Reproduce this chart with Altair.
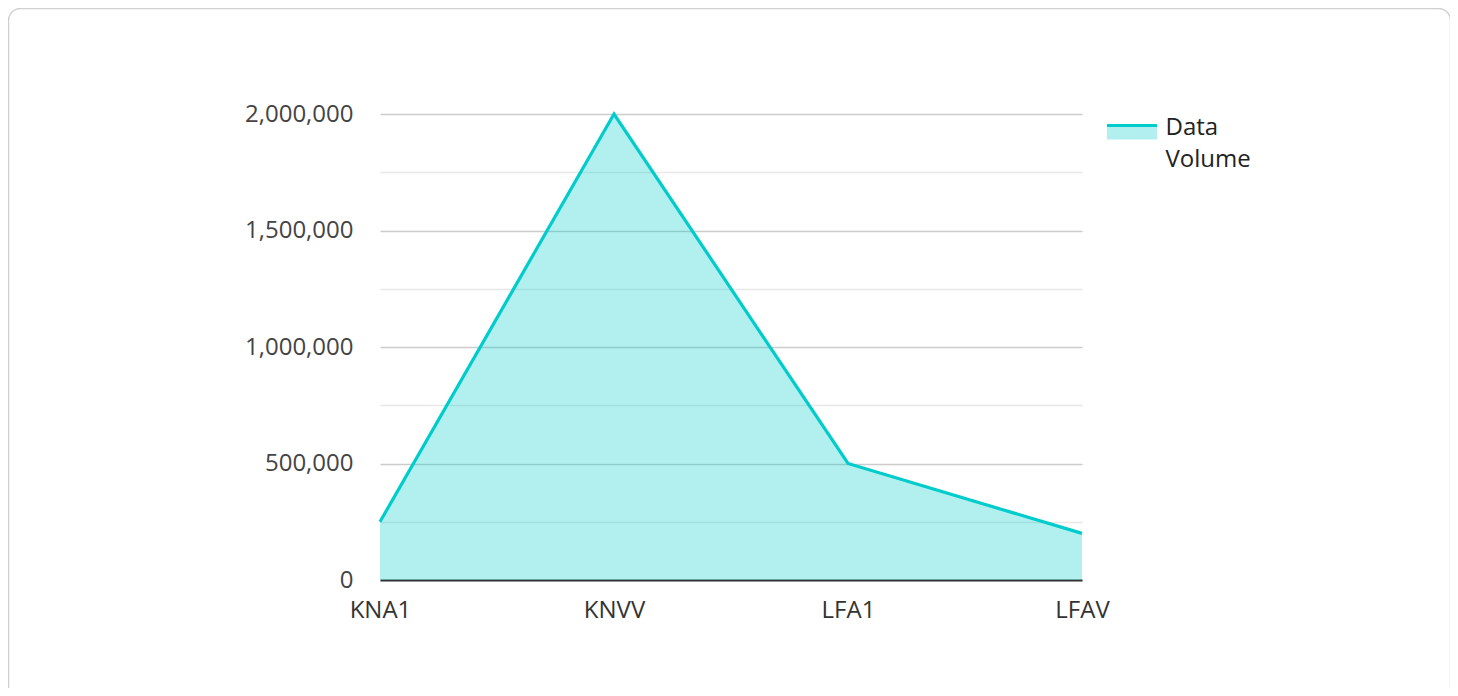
import altair as alt
import pandas as pd

tables = ["KNA1", "KNVV", "LFA1", "LFAV"]
volumes = [250000, 2000000, 500000, 200000]
series_name = "Data Volume"
legend_lines = ["Data", "Volume"]
y_ticks = [0, 250000, 500000, 750000, 1000000, 1250000, 1500000, 1750000, 2000000]

TEAL = "#00cccc"
FONT = "Open Sans"
FS = 24

df = pd.DataFrame({"table": tables, "volume": volumes, "series": [series_name] * len(tables)})

x_enc = alt.X(
    "table:N",
    sort=tables,
    scale=alt.Scale(type="point", padding=0),
    axis=alt.Axis(
        title=None, labelAngle=0, ticks=False, grid=False,
        domainColor="#333333", domainWidth=2,
        labelFont=FONT, labelFontSize=FS, labelColor="#333333", labelPadding=18,
    ),
)
y_enc = alt.Y(
    "volume:Q",
    scale=alt.Scale(domain=[0, 2000000], nice=False),
    axis=alt.Axis(
        title=None, values=y_ticks, format=",d", ticks=False, domain=False,
        labelExpr="datum.value % 500000 === 0 ? datum.label : ''",
        gridColor={"condition": {"test": "datum.value % 500000 === 0", "value": "#cccccc"}, "value": "#e8e8e8"},
        gridWidth=1.5,
        labelFont=FONT, labelFontSize=FS, labelColor="#444444", labelPadding=27,
    ),
)

area = alt.Chart(df).mark_area(opacity=0.3, color=TEAL).encode(x=x_enc, y=y_enc)

line = alt.Chart(df).mark_line(strokeWidth=3.2).encode(
    x=x_enc,
    y=y_enc,
    stroke=alt.Stroke(
        "series:N",
        scale=alt.Scale(range=[TEAL]),
        legend=alt.Legend(
            title=legend_lines, titleOrient="right", titleAnchor="start",
            titleFont=FONT, titleFontSize=FS, titleFontWeight="normal",
            titleColor="#222222", titleLineHeight=32, titleBaseline="top",
            titlePadding=2,
            orient="none", legendX=735.5, legendY=2,
            symbolType="M-1.667,-0.467H1.667V0.467H-1.667Z", symbolSize=900,
            symbolFillColor="#b2f0f0", symbolStrokeWidth=3,
            symbolDash=[50, 1000], symbolOpacity=1,
            labelExpr="''", labelOffset=0, labelFontSize=1,
        ),
    ),
)

card = alt.Chart(pd.DataFrame({"c": [0]})).mark_rect(
    fill="transparent", stroke="#d0d0d0", strokeWidth=1.5, cornerRadius=12
).encode(
    x=alt.value(-371.5), x2=alt.value(1070.5),
    y=alt.value(-105.5), y2=alt.value(620),
)

chart = alt.layer(card, area, line).properties(
    width=702, height=466,
    padding={"left": 372, "top": 106, "right": 368, "bottom": 108},
    autosize=alt.AutoSizeParams(type="none"),
    background="white",
).configure_view(stroke=None)

chart.save("out.html", embed_options={"renderer": "svg", "actions": False})
